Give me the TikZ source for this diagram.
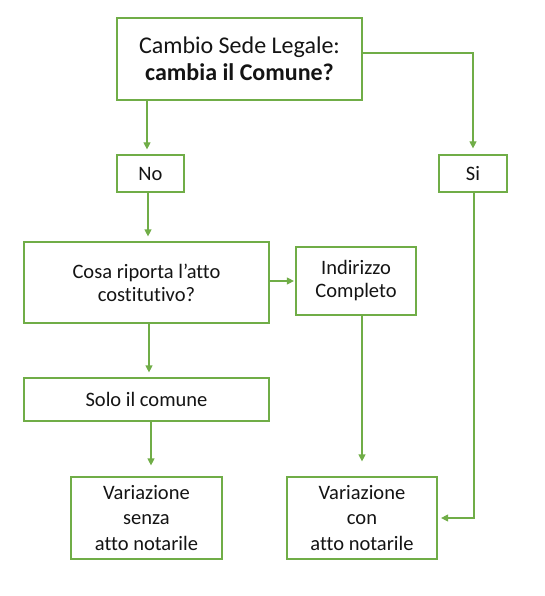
\documentclass[tikz,border=0pt]{standalone}
\usepackage{fontspec}
\setmainfont{Carlito}[Ligatures=NoCommon]
\usetikzlibrary{arrows.meta,positioning}
\definecolor{boxgreen}{RGB}{112,173,71}
\definecolor{inktext}{RGB}{20,20,20}

\begin{document}
\begin{tikzpicture}[
  x=1pt, y=-1pt,
  box/.style={draw=boxgreen, line width=1.2pt, fill=white, align=center, inner sep=2pt, text=inktext, font=\fontsize{20.5}{23}\selectfont},
  result/.style={box, minimum width=151pt, minimum height=82pt, font=\fontsize{20.5}{25.5}\selectfont},
  arrow/.style={-{Triangle[length=7pt,width=7pt]}, line width=1.2pt, boxgreen},
]
\useasboundingbox (0,0) rectangle (544,596);

% Question (top)
\node[box, minimum width=245pt, minimum height=82pt, font=\fontsize{24}{26.5}\selectfont] (question) at (239.5,59) {Cambio Sede Legale:\\\textbf{cambia il Comune?}};

% Answers
\node[box, minimum width=67pt, minimum height=37pt] (no) at (150.5,173.5) {No};
\node[box, minimum width=68pt, minimum height=37pt] (si) at (473,173.5) {Si};

% Atto costitutivo
\node[box, minimum width=245pt, minimum height=81pt] (atto) at (146.5,282.5) {Cosa riporta l’atto\\costitutivo?};
\node[box, minimum width=120pt, minimum height=68pt] (indirizzo) at (356,281) {Indirizzo\\Completo};
\node[box, minimum width=245pt, minimum height=43pt] (comune) at (146.5,399.5) {Solo il comune};

% Results (bottom)
\node[result] (senza) at (146.5,518) {Variazione\\senza\\atto notarile};
\node[result, minimum width=150pt] (con) at (362,518) {Variazione\\con\\atto notarile};

% Connectors
\draw[arrow, shorten >=5pt] ([xshift=-3.5pt]question.south -| no.north) -- ([xshift=-3.5pt]no.north);
\draw[arrow, shorten >=6pt] ([yshift=6pt]question.east) -| (si.north);
\draw[arrow, shorten >=5pt] ([xshift=-2.5pt]no.south) -- ([xshift=-2.5pt]no.south |- atto.north);
\draw[arrow, shorten >=1.5pt] (atto.east |- indirizzo.west) -- (indirizzo.west);
\draw[arrow, shorten >=5pt] ([xshift=2.5pt]atto.south) -- ([xshift=2.5pt]comune.north);
\draw[arrow, shorten >=11pt] ([xshift=4.5pt]comune.south) -- ([xshift=4.5pt]senza.north);
\draw[arrow, shorten >=15pt] (indirizzo.south -| con.north) -- (con.north);
\draw[arrow, shorten >=3.5pt] ([xshift=1pt]si.south) |- (con.east);

\end{tikzpicture}
\end{document}
